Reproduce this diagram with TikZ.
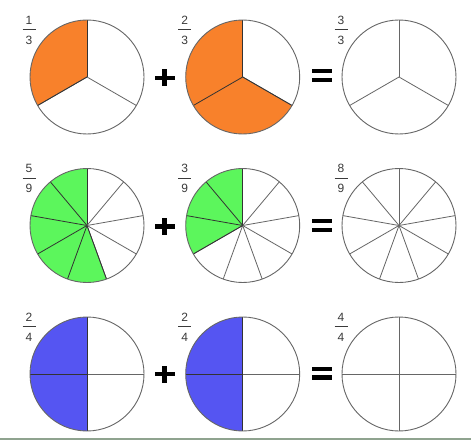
\documentclass[tikz,border=0pt]{standalone}
\usepackage{fontspec}
\setmainfont{Liberation Sans}
\definecolor{pieorange}{HTML}{F8812B}
\definecolor{piegreen}{HTML}{5CF65C}
\definecolor{pieblue}{HTML}{5555F2}
\definecolor{rimgray}{HTML}{666666}
\definecolor{labelgray}{HTML}{3A3A3A}
\definecolor{basegreen}{HTML}{8FA38F}
\tikzset{
  rim/.style={draw=rimgray, line width=0.9pt},
  spoke/.style={draw=rimgray, line width=0.8pt},
  fillspoke/.style={draw=black!80, line width=0.8pt},
  digit/.style={text=labelgray, font=\fontsize{12}{13}\selectfont, inner sep=0pt},
  fracbar/.style={draw=labelgray, line width=0.9pt},
  signbar/.style={fill=black, draw=none},
}
% #1 name, #2 cx, #3 cy, #4 n, #5 k, #6 colour, #7 numerator
\newcommand{\fracpie}[7]{%
  \begin{scope}[shift={(#2pt,#3pt)}]
    \fill[white] (0,0) circle (57pt);
    \fill[#6] (0,0) -- (90:57pt) arc[start angle=90, end angle={90+360*#5/#4}, radius=57pt] -- cycle;
    \foreach \i in {1,...,#4}{
      \pgfmathsetmacro{\ang}{90+360*(\i-1)/#4}
      \ifnum\i>#5\relax
        \draw[spoke] (0,0) -- (\ang:57pt);
      \else
        \draw[fillspoke] (0,0) -- (\ang:57pt);
      \fi
    }
    \ifnum#5>0\relax
      \draw[fillspoke] (0,0) -- ({90+360*#5/#4}:57pt);
    \fi
    \draw[rim] (0,0) circle (57pt);
    \node[digit] (#1n) at (-58pt,57pt) {#7};
    \draw[fracbar] (-64.5pt,47.5pt) -- (-51.5pt,47.5pt);
    \node[digit] (#1d) at (-58pt,37pt) {#4};
  \end{scope}}
\newcommand{\plussign}[3]{%
  \coordinate (#1) at (#2pt,#3pt);
  \fill[signbar] ($(#1)+(-10pt,-2.1pt)$) rectangle ($(#1)+(10pt,2.1pt)$);
  \fill[signbar] ($(#1)+(-2.1pt,-8.5pt)$) rectangle ($(#1)+(2.1pt,8.5pt)$);}
\newcommand{\eqsign}[3]{%
  \coordinate (#1) at (#2pt,#3pt);
  \fill[signbar] ($(#1)+(-10pt,2.2pt)$) rectangle ($(#1)+(10pt,6.5pt)$);
  \fill[signbar] ($(#1)+(-10pt,-6.5pt)$) rectangle ($(#1)+(10pt,-2.2pt)$);}
\usetikzlibrary{calc}
\begin{document}
\begin{tikzpicture}[x=1pt,y=1pt]
  \useasboundingbox (0,0) rectangle (474,440);
  \fill[white] (0,0) rectangle (474,440);
  % row 1
  \fracpie{a}{87}{363}{3}{1}{pieorange}{1}
  \plussign{pa}{164.5}{362}
  \fracpie{b}{242.7}{363}{3}{2}{pieorange}{2}
  \eqsign{ea}{321.7}{364.3}
  \fracpie{c}{399}{363}{3}{0}{white}{3}
  % row 2
  \fracpie{d}{87}{214.5}{9}{5}{piegreen}{5}
  \plussign{pb}{164.5}{213.5}
  \fracpie{e}{242.7}{214.5}{9}{3}{piegreen}{3}
  \eqsign{eb}{321.7}{214.5}
  \fracpie{f}{399}{214.5}{9}{0}{white}{8}
  % row 3
  \fracpie{g}{87}{66}{4}{2}{pieblue}{2}
  \plussign{pc}{164.5}{66}
  \fracpie{h}{242.7}{66}{4}{2}{pieblue}{2}
  \eqsign{ec}{321.7}{67}
  \fracpie{i}{399}{66}{4}{0}{white}{4}
  % base line
  \fill[basegreen] (0,0) rectangle (471,2.4);
\end{tikzpicture}
\end{document}
